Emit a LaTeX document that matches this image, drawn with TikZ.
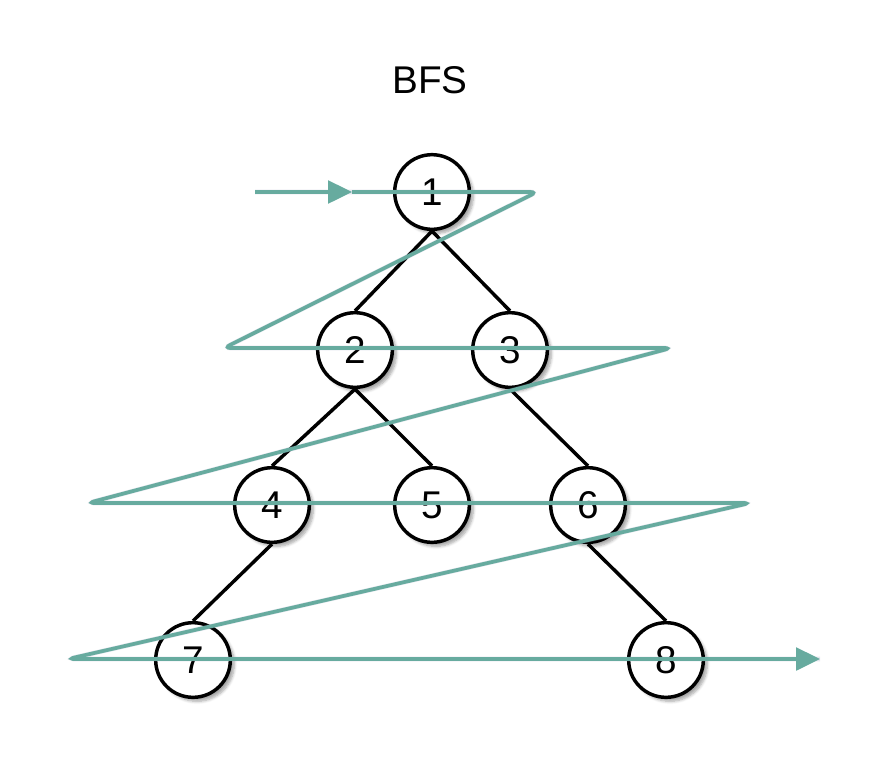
\documentclass[tikz,border=0pt]{standalone}
\usepackage{fontspec}
\setmainfont{Liberation Sans}
\usetikzlibrary{arrows.meta,shadows.blur}
\definecolor{teal}{HTML}{67AB9F}
\definecolor{shadowc}{HTML}{9A9FC0}
\begin{document}
\begin{tikzpicture}[x=0.75pt,y=-0.75pt,
  vertex/.style={circle,draw=black,line width=2.6pt,fill=white,minimum size=56pt,inner sep=0pt,
    font=\fontsize{29}{29}\selectfont,
    blur shadow={shadow xshift=3pt,shadow yshift=-3pt,shadow blur steps=6,shadow opacity=35}},
  edge/.style={draw=black,line width=2.6pt},
  trail/.style={draw=teal,line width=2.8pt,rounded corners=5pt},
  trailshadow/.style={draw=shadowc,line width=3.5pt,opacity=0.25,rounded corners=5pt},
  tip/.style={-{Triangle[length=18pt,width=17pt]}}
]
\useasboundingbox (0,0) rectangle (886,768);
\node[font=\fontsize{29}{29}\selectfont] (title) at (430,80) {BFS};
\node[vertex] (n1) at (432,192) {1};
\node[vertex] (n2) at (355,350) {2};
\node[vertex] (n3) at (510,350) {3};
\node[vertex] (n4) at (272,505) {4};
\node[vertex] (n5) at (432,505) {5};
\node[vertex] (n6) at (588,505) {6};
\node[vertex] (n7) at (193,660) {7};
\node[vertex] (n8) at (666,660) {8};
\begin{scope}[on background layer/.style={}]
\end{scope}
\draw[edge] (n1.south) -- (n2.north);
\draw[edge] (n1.south) -- (n3.north);
\draw[edge] (n2.south) -- (n4.north);
\draw[edge] (n2.south) -- (n5.north);
\draw[edge] (n3.south) -- (n6.north);
\draw[edge] (n4.south) -- (n7.north);
\draw[edge] (n6.south) -- (n8.north);
% BFS trail
\coordinate (s0) at (255,192);
\coordinate (sm) at (352,192);
\coordinate (t1) at (537,192);
\coordinate (t2) at (224,348);
\coordinate (t3) at (671,348);
\coordinate (t4) at (88,503);
\coordinate (t5) at (750,503);
\coordinate (t6) at (68,659);
\coordinate (e) at (820,659);
\begin{scope}[shift={(4,5)}]
\draw[trailshadow] (s0) -- (t1) -- (t2) -- (t3) -- (t4) -- (t5) -- (t6) -- (e);
\end{scope}
\draw[trail,tip] (s0) -- (sm);
\draw[trail] (sm) -- (t1) -- (t2) -- (t3) -- (t4) -- (t5) -- (t6) -- ([xshift=-15]e);
\draw[trail,tip] ([xshift=-20]e) -- (e);
\end{tikzpicture}
\end{document}
